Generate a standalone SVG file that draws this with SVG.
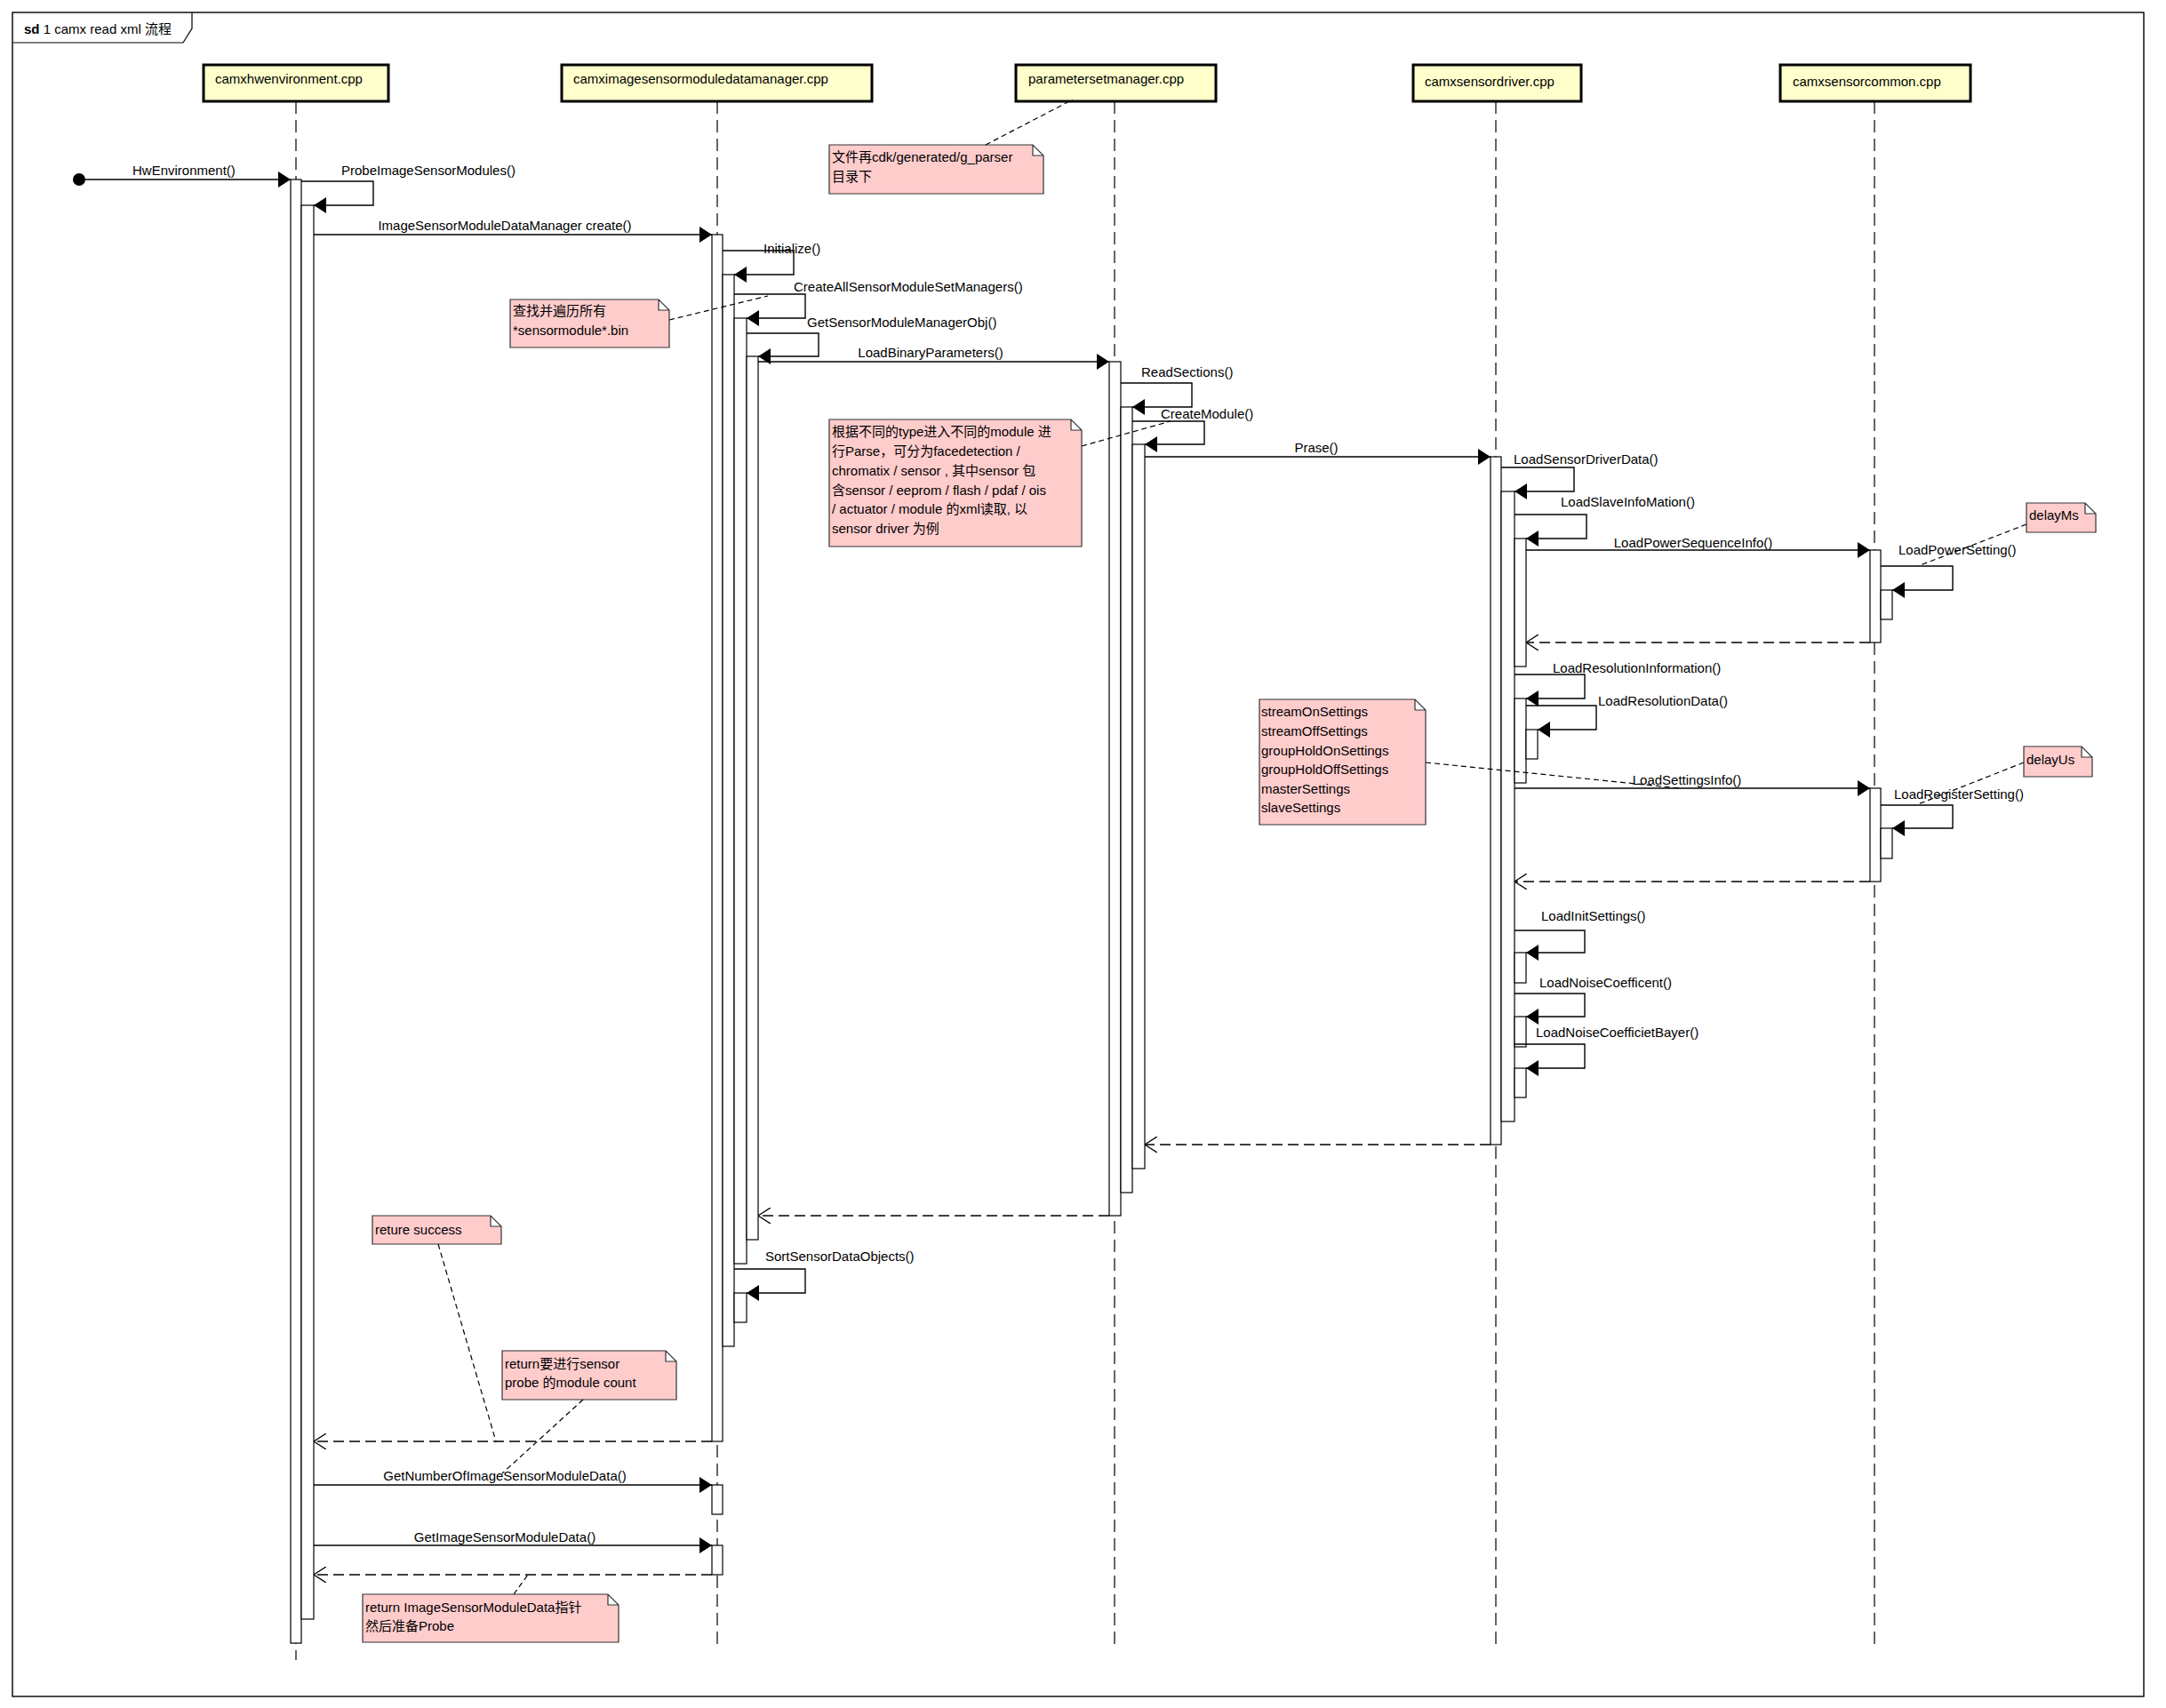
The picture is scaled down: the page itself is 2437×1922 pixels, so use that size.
<svg xmlns="http://www.w3.org/2000/svg" width="2437" height="1922" viewBox="0 0 2437 1922">
<style>
text{font-family:"Liberation Sans","Noto Sans CJK SC",sans-serif;font-size:15px;fill:#000}
.hdr{fill:#ffffcc;stroke:#000;stroke-width:3}
.life{stroke:#000;stroke-width:1.2;stroke-dasharray:14 7;fill:none}
.act{fill:#fff;stroke:#000;stroke-width:1.2}
.msg{stroke:#000;stroke-width:1.4;fill:none;marker-end:url(#fa)}
.ret{stroke:#000;stroke-width:1.4;fill:none;stroke-dasharray:12 6;marker-end:url(#oa)}
.note{fill:#ffcccc;stroke:#333;stroke-width:1.2}
.nl{stroke:#000;stroke-width:1.2;stroke-dasharray:6 4;fill:none}
</style>
<defs>
<marker id="fa" viewBox="0 0 14 18" refX="14" refY="9" markerWidth="14" markerHeight="18" markerUnits="userSpaceOnUse" orient="auto"><path d="M0,0 L14,9 L0,18 Z" fill="#000"/></marker>
<marker id="oa" viewBox="0 0 14 18" refX="14" refY="9" markerWidth="14" markerHeight="18" markerUnits="userSpaceOnUse" orient="auto"><path d="M0,0 L14,9 L0,18" fill="none" stroke="#000" stroke-width="1.4"/></marker>
</defs>
<rect x="0" y="0" width="2437" height="1922" fill="#fff"/>
<g id="frame">
<rect x="14" y="14" width="2398" height="1895" fill="none" stroke="#000" stroke-width="1.4"/>
<path d="M14,48 H206 L216,32 V14" fill="none" stroke="#000" stroke-width="1.2"/>
<text x="27" y="38"><tspan font-weight="bold">sd</tspan> 1 camx read xml 流程</text>
</g>
<g id="lifelines">
<line class="life" x1="333" y1="114" x2="333" y2="1868"/>
<line class="life" x1="807" y1="114" x2="807" y2="1856"/>
<line class="life" x1="1254" y1="114" x2="1254" y2="1857"/>
<line class="life" x1="1683" y1="114" x2="1683" y2="1857"/>
<line class="life" x1="2109" y1="114" x2="2109" y2="1857"/>
</g>
<g id="h1"><rect class="hdr" x="229" y="73" width="208" height="41"/><text x="242" y="94">camxhwenvironment.cpp</text></g>
<g id="h2"><rect class="hdr" x="632" y="73" width="349" height="41"/><text x="645" y="94">camximagesensormoduledatamanager.cpp</text></g>
<g id="h3"><rect class="hdr" x="1143" y="73" width="225" height="41"/><text x="1157" y="94">parametersetmanager.cpp</text></g>
<g id="h4"><rect class="hdr" x="1590" y="73" width="189" height="41"/><text x="1603" y="97">camxsensordriver.cpp</text></g>
<g id="h5"><rect class="hdr" x="2003" y="73" width="214" height="41"/><text x="2017" y="97">camxsensorcommon.cpp</text></g>
<g id="activations">
<rect class="act" x="327" y="202" width="12" height="1647"/>
<rect class="act" x="339" y="231" width="14" height="1591"/>
<rect class="act" x="801" y="264" width="12" height="1358"/>
<rect class="act" x="813" y="309" width="13" height="1206"/>
<rect class="act" x="826" y="358" width="14" height="1064"/>
<rect class="act" x="840" y="401" width="13" height="994"/>
<rect class="act" x="826" y="1455" width="14" height="33"/>
<rect class="act" x="801" y="1671" width="12" height="33"/>
<rect class="act" x="801" y="1739" width="12" height="33"/>
<rect class="act" x="1248" y="407" width="13" height="961"/>
<rect class="act" x="1261" y="458" width="13" height="884"/>
<rect class="act" x="1274" y="500" width="14" height="815"/>
<rect class="act" x="1677" y="514" width="12" height="774"/>
<rect class="act" x="1689" y="553" width="15" height="709"/>
<rect class="act" x="1704" y="606" width="13" height="144"/>
<rect class="act" x="1704" y="786" width="13" height="95"/>
<rect class="act" x="1717" y="821" width="13" height="33"/>
<rect class="act" x="1704" y="1072" width="13" height="34"/>
<rect class="act" x="1704" y="1144" width="13" height="34"/>
<rect class="act" x="1704" y="1202" width="13" height="33"/>
<rect class="act" x="2104" y="619" width="12" height="104"/>
<rect class="act" x="2116" y="664" width="13" height="33"/>
<rect class="act" x="2104" y="887" width="12" height="105"/>
<rect class="act" x="2116" y="932" width="13" height="34"/>
</g>
<g id="connectors">
<circle cx="89" cy="202" r="7" fill="#000"/>
<line class="msg" x1="89" y1="202" x2="327" y2="202"/>
<path class="msg" d="M339,204 H420 V231 H353"/>
<line class="msg" x1="353" y1="264" x2="801" y2="264"/>
<path class="msg" d="M813,282 H893 V309 H826"/>
<path class="msg" d="M826,331 H906 V358 H840"/>
<path class="msg" d="M840,375 H921 V401 H853"/>
<line class="msg" x1="853" y1="407" x2="1248" y2="407"/>
<path class="msg" d="M1261,431 H1341 V458 H1274"/>
<path class="msg" d="M1274,474 H1355 V500 H1288"/>
<line class="msg" x1="1288" y1="514" x2="1677" y2="514"/>
<path class="msg" d="M1689,526 H1771 V553 H1704"/>
<path class="msg" d="M1704,579 H1785 V606 H1717"/>
<line class="msg" x1="1717" y1="619" x2="2104" y2="619"/>
<path class="msg" d="M2116,637 H2197 V664 H2129"/>
<line class="ret" x1="2104" y1="723" x2="1717" y2="723"/>
<path class="msg" d="M1704,759 H1783 V786 H1717"/>
<path class="msg" d="M1717,794 H1796 V821 H1730"/>
<line class="msg" x1="1704" y1="887" x2="2104" y2="887"/>
<path class="msg" d="M2116,906 H2197 V932 H2129"/>
<line class="ret" x1="2104" y1="992" x2="1704" y2="992"/>
<path class="msg" d="M1704,1047 H1783 V1072 H1717"/>
<path class="msg" d="M1704,1118 H1783 V1144 H1717"/>
<path class="msg" d="M1704,1175 H1783 V1202 H1717"/>
<line class="ret" x1="1677" y1="1288" x2="1288" y2="1288"/>
<line class="ret" x1="1248" y1="1368" x2="853" y2="1368"/>
<path class="msg" d="M826,1428 H906 V1455 H840"/>
<line class="ret" x1="801" y1="1622" x2="353" y2="1622"/>
<line class="msg" x1="353" y1="1671" x2="801" y2="1671"/>
<line class="msg" x1="353" y1="1739" x2="801" y2="1739"/>
<line class="ret" x1="801" y1="1772" x2="353" y2="1772"/>
</g>
<g id="labels">
<text x="149" y="197">HwEnvironment()</text>
<text x="384" y="197">ProbeImageSensorModules()</text>
<text x="568" y="259" text-anchor="middle">ImageSensorModuleDataManager create()</text>
<text x="859" y="285">Initialize()</text>
<text x="893" y="328">CreateAllSensorModuleSetManagers()</text>
<text x="908" y="368">GetSensorModuleManagerObj()</text>
<text x="1047" y="402" text-anchor="middle">LoadBinaryParameters()</text>
<text x="1284" y="424">ReadSections()</text>
<text x="1306" y="471">CreateModule()</text>
<text x="1481" y="509" text-anchor="middle">Prase()</text>
<text x="1703" y="522">LoadSensorDriverData()</text>
<text x="1756" y="570">LoadSlaveInfoMation()</text>
<text x="1905" y="616" text-anchor="middle">LoadPowerSequenceInfo()</text>
<text x="2136" y="624">LoadPowerSetting()</text>
<text x="1747" y="757">LoadResolutionInformation()</text>
<text x="1798" y="794">LoadResolutionData()</text>
<text x="1898" y="883" text-anchor="middle">LoadSettingsInfo()</text>
<text x="2131" y="899">LoadRegisterSetting()</text>
<text x="1734" y="1036">LoadInitSettings()</text>
<text x="1732" y="1111">LoadNoiseCoefficent()</text>
<text x="1728" y="1167">LoadNoiseCoefficietBayer()</text>
<text x="861" y="1419">SortSensorDataObjects()</text>
<text x="568" y="1666" text-anchor="middle">GetNumberOfImageSensorModuleData()</text>
<text x="568" y="1735" text-anchor="middle">GetImageSensorModuleData()</text>
</g>
<g id="n1"><path class="note" d="M933,163 H1162 L1174,175 V218 H933 Z M1162,163 V175 H1174"/><text x="936" y="182">文件再cdk/generated/g_parser</text><text x="936" y="204">目录下</text><line class="nl" x1="1109" y1="163" x2="1207" y2="112"/></g>
<g id="n2"><path class="note" d="M574,337 H741 L753,349 V391 H574 Z M741,337 V349 H753"/><text x="577" y="355">查找并遍历所有</text><text x="577" y="377">*sensormodule*.bin</text><line class="nl" x1="753" y1="360" x2="864" y2="333"/></g>
<g id="n3"><path class="note" d="M933,472 H1205 L1217,484 V615 H933 Z M1205,472 V484 H1217"/>
<text x="936" y="491">根据不同的type进入不同的module 进</text><text x="936" y="513">行Parse，可分为facedetection /</text><text x="936" y="535">chromatix / sensor , 其中sensor 包</text><text x="936" y="557">含sensor / eeprom / flash / pdaf / ois</text><text x="936" y="578">/ actuator / module 的xml读取, 以</text><text x="936" y="600">sensor driver 为例</text>
<line class="nl" x1="1217" y1="502" x2="1317" y2="474"/></g>
<g id="n4"><path class="note" d="M2280,566 H2346 L2358,578 V599 H2280 Z M2346,566 V578 H2358"/><text x="2283" y="585">delayMs</text><line class="nl" x1="2280" y1="590" x2="2158" y2="637"/></g>
<g id="n5"><path class="note" d="M1417,787 H1592 L1604,799 V928 H1417 Z M1592,787 V799 H1604"/>
<text x="1419" y="806">streamOnSettings</text><text x="1419" y="828">streamOffSettings</text><text x="1419" y="850">groupHoldOnSettings</text><text x="1419" y="871">groupHoldOffSettings</text><text x="1419" y="893">masterSettings</text><text x="1419" y="914">slaveSettings</text>
<line class="nl" x1="1604" y1="858" x2="1890" y2="887"/></g>
<g id="n6"><path class="note" d="M2277,840 H2342 L2354,852 V874 H2277 Z M2342,840 V852 H2354"/><text x="2280" y="860">delayUs</text><line class="nl" x1="2277" y1="858" x2="2158" y2="905"/></g>
<g id="n7"><path class="note" d="M419,1368 H552 L564,1380 V1400 H419 Z M552,1368 V1380 H564"/><text x="422" y="1389">reture success</text><line class="nl" x1="493" y1="1400" x2="558" y2="1622"/></g>
<g id="n8"><path class="note" d="M565,1520 H749 L761,1532 V1575 H565 Z M749,1520 V1532 H761"/><text x="568" y="1540">return要进行sensor</text><text x="568" y="1561">probe 的module count</text><line class="nl" x1="656" y1="1575" x2="565" y2="1658"/></g>
<g id="n9"><path class="note" d="M408,1794 H684 L696,1806 V1848 H408 Z M684,1794 V1806 H696"/><text x="411" y="1814">return ImageSensorModuleData指针</text><text x="411" y="1835">然后准备Probe</text><line class="nl" x1="578" y1="1794" x2="594" y2="1772"/></g>
</svg>
